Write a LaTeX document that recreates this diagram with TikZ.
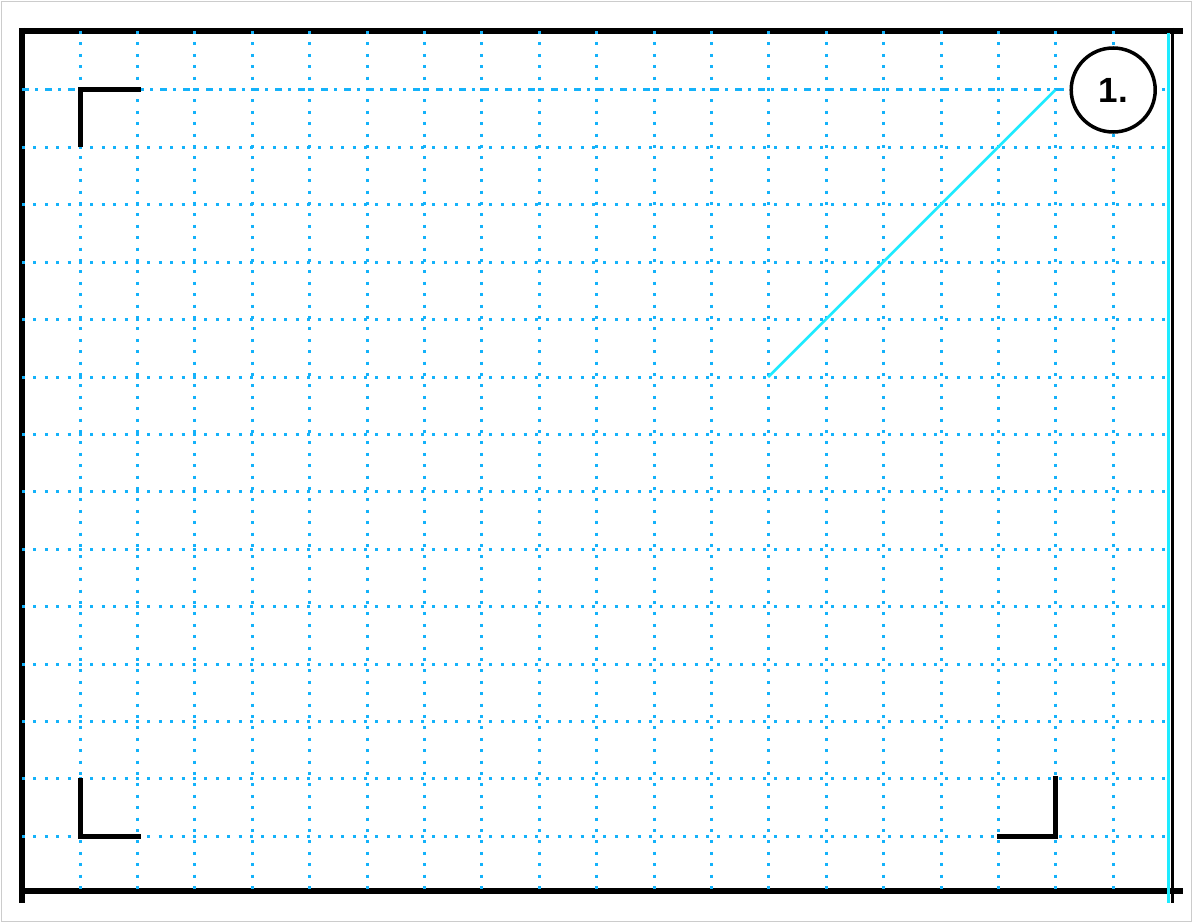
\documentclass[tikz,border=0pt]{standalone}
\usepackage{fontspec}
\setmainfont{Liberation Sans}
\definecolor{gridblue}{RGB}{20,178,250}
\definecolor{diagcyan}{RGB}{30,235,255}
\begin{document}
\begin{tikzpicture}[x=1pt,y=-1pt,
  framebar/.style={black, line width=6pt, line cap=butt},
  gridline/.style={gridblue, line width=3pt, line cap=butt, dash pattern=on 3pt off 8.4pt},
  dashdotline/.style={gridblue, line width=3pt, line cap=butt, dash pattern=on 7pt off 6pt on 3pt off 7pt},
  cornermark/.style={black, line width=5pt, line cap=butt, line join=miter},
  diagline/.style={diagcyan, line width=2.6pt},
  numcircle/.style={circle, draw=black, line width=3.5pt, fill=white, minimum size=84pt, inner sep=0pt,
    font=\bfseries\fontsize{35}{35}\selectfont}]
\useasboundingbox (0,0) rectangle (1193,923);
\fill[white] (0,0) rectangle (1193,923);
\draw[black!20, line width=1pt] (1.5,1.5) rectangle (1191.5,921.5);

% frame
\draw[framebar] (19,31) -- (1183,31);
\draw[framebar] (19,891) -- (1183,891);
\draw[framebar] (22,28) -- (22,903);
\draw[diagcyan, line width=3pt] (1168.5,33) -- (1168.5,903);
\draw[black, line width=3pt] (1172,28) -- (1172,903);

% grid
\foreach \i in {0,...,18}{
  \draw[gridline] (80+57.4*\i,31) -- (80+57.4*\i,891);
}
\foreach \j in {1,...,13}{
  \draw[gridline] (22,90+57.4*\j) -- (1170,90+57.4*\j);
}
\draw[dashdotline] (22,90) -- (1170,90);

% diagonal
\coordinate (ds) at (768.2,377);
\coordinate (de) at (1055.2,90);
\draw[diagline] (ds) -- (de);

% corner marks
\draw[cornermark] (80,147.4) -- (80,90) -- (141,90);
\draw[cornermark] (80,778) -- (80,836) -- (141,836);
\draw[cornermark] (997,836) -- (1055.2,836) -- (1055.2,776);

% number circle
\node[numcircle] (num) at (1113.2,90) {1.};
\end{tikzpicture}
\end{document}
